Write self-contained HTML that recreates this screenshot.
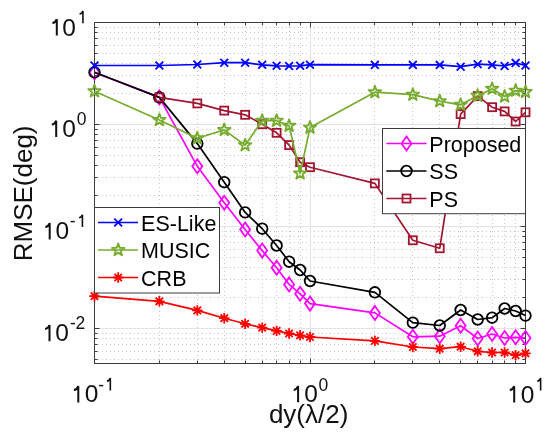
<!DOCTYPE html>
<html><head><meta charset="utf-8"><style>html,body{margin:0;padding:0;background:#fff;width:550px;height:437px;overflow:hidden}</style></head>
<body><svg width="550" height="437" viewBox="0 0 550 437" style="display:block;filter:blur(0.35px)">
<rect width="550" height="437" fill="#fff"/>
<g><line x1="159.5" y1="23" x2="159.5" y2="363.5" stroke="#c8c8c8" stroke-width="1" stroke-dasharray="1 3"/><line x1="197.5" y1="23" x2="197.5" y2="363.5" stroke="#c8c8c8" stroke-width="1" stroke-dasharray="1 3"/><line x1="224.5" y1="23" x2="224.5" y2="363.5" stroke="#c8c8c8" stroke-width="1" stroke-dasharray="1 3"/><line x1="245.5" y1="23" x2="245.5" y2="363.5" stroke="#c8c8c8" stroke-width="1" stroke-dasharray="1 3"/><line x1="262.5" y1="23" x2="262.5" y2="363.5" stroke="#c8c8c8" stroke-width="1" stroke-dasharray="1 3"/><line x1="276.5" y1="23" x2="276.5" y2="363.5" stroke="#c8c8c8" stroke-width="1" stroke-dasharray="1 3"/><line x1="289.5" y1="23" x2="289.5" y2="363.5" stroke="#c8c8c8" stroke-width="1" stroke-dasharray="1 3"/><line x1="300.5" y1="23" x2="300.5" y2="363.5" stroke="#c8c8c8" stroke-width="1" stroke-dasharray="1 3"/><line x1="374.5" y1="23" x2="374.5" y2="363.5" stroke="#c8c8c8" stroke-width="1" stroke-dasharray="1 3"/><line x1="412.5" y1="23" x2="412.5" y2="363.5" stroke="#c8c8c8" stroke-width="1" stroke-dasharray="1 3"/><line x1="439.5" y1="23" x2="439.5" y2="363.5" stroke="#c8c8c8" stroke-width="1" stroke-dasharray="1 3"/><line x1="460.5" y1="23" x2="460.5" y2="363.5" stroke="#c8c8c8" stroke-width="1" stroke-dasharray="1 3"/><line x1="477.5" y1="23" x2="477.5" y2="363.5" stroke="#c8c8c8" stroke-width="1" stroke-dasharray="1 3"/><line x1="492.5" y1="23" x2="492.5" y2="363.5" stroke="#c8c8c8" stroke-width="1" stroke-dasharray="1 3"/><line x1="504.5" y1="23" x2="504.5" y2="363.5" stroke="#c8c8c8" stroke-width="1" stroke-dasharray="1 3"/><line x1="515.5" y1="23" x2="515.5" y2="363.5" stroke="#c8c8c8" stroke-width="1" stroke-dasharray="1 3"/><line x1="94" y1="359.5" x2="525.5" y2="359.5" stroke="#c8c8c8" stroke-width="1" stroke-dasharray="1 3"/><line x1="94" y1="351.5" x2="525.5" y2="351.5" stroke="#c8c8c8" stroke-width="1" stroke-dasharray="1 3"/><line x1="94" y1="344.5" x2="525.5" y2="344.5" stroke="#c8c8c8" stroke-width="1" stroke-dasharray="1 3"/><line x1="94" y1="338.5" x2="525.5" y2="338.5" stroke="#c8c8c8" stroke-width="1" stroke-dasharray="1 3"/><line x1="94" y1="333.5" x2="525.5" y2="333.5" stroke="#c8c8c8" stroke-width="1" stroke-dasharray="1 3"/><line x1="94" y1="297.5" x2="525.5" y2="297.5" stroke="#c8c8c8" stroke-width="1" stroke-dasharray="1 3"/><line x1="94" y1="279.5" x2="525.5" y2="279.5" stroke="#c8c8c8" stroke-width="1" stroke-dasharray="1 3"/><line x1="94" y1="267.5" x2="525.5" y2="267.5" stroke="#c8c8c8" stroke-width="1" stroke-dasharray="1 3"/><line x1="94" y1="257.5" x2="525.5" y2="257.5" stroke="#c8c8c8" stroke-width="1" stroke-dasharray="1 3"/><line x1="94" y1="249.5" x2="525.5" y2="249.5" stroke="#c8c8c8" stroke-width="1" stroke-dasharray="1 3"/><line x1="94" y1="242.5" x2="525.5" y2="242.5" stroke="#c8c8c8" stroke-width="1" stroke-dasharray="1 3"/><line x1="94" y1="236.5" x2="525.5" y2="236.5" stroke="#c8c8c8" stroke-width="1" stroke-dasharray="1 3"/><line x1="94" y1="231.5" x2="525.5" y2="231.5" stroke="#c8c8c8" stroke-width="1" stroke-dasharray="1 3"/><line x1="94" y1="195.5" x2="525.5" y2="195.5" stroke="#c8c8c8" stroke-width="1" stroke-dasharray="1 3"/><line x1="94" y1="177.5" x2="525.5" y2="177.5" stroke="#c8c8c8" stroke-width="1" stroke-dasharray="1 3"/><line x1="94" y1="165.5" x2="525.5" y2="165.5" stroke="#c8c8c8" stroke-width="1" stroke-dasharray="1 3"/><line x1="94" y1="155.5" x2="525.5" y2="155.5" stroke="#c8c8c8" stroke-width="1" stroke-dasharray="1 3"/><line x1="94" y1="147.5" x2="525.5" y2="147.5" stroke="#c8c8c8" stroke-width="1" stroke-dasharray="1 3"/><line x1="94" y1="140.5" x2="525.5" y2="140.5" stroke="#c8c8c8" stroke-width="1" stroke-dasharray="1 3"/><line x1="94" y1="134.5" x2="525.5" y2="134.5" stroke="#c8c8c8" stroke-width="1" stroke-dasharray="1 3"/><line x1="94" y1="129.5" x2="525.5" y2="129.5" stroke="#c8c8c8" stroke-width="1" stroke-dasharray="1 3"/><line x1="94" y1="93.5" x2="525.5" y2="93.5" stroke="#c8c8c8" stroke-width="1" stroke-dasharray="1 3"/><line x1="94" y1="75.5" x2="525.5" y2="75.5" stroke="#c8c8c8" stroke-width="1" stroke-dasharray="1 3"/><line x1="94" y1="63.5" x2="525.5" y2="63.5" stroke="#c8c8c8" stroke-width="1" stroke-dasharray="1 3"/><line x1="94" y1="53.5" x2="525.5" y2="53.5" stroke="#c8c8c8" stroke-width="1" stroke-dasharray="1 3"/><line x1="94" y1="45.5" x2="525.5" y2="45.5" stroke="#c8c8c8" stroke-width="1" stroke-dasharray="1 3"/><line x1="94" y1="38.5" x2="525.5" y2="38.5" stroke="#c8c8c8" stroke-width="1" stroke-dasharray="1 3"/><line x1="94" y1="32.5" x2="525.5" y2="32.5" stroke="#c8c8c8" stroke-width="1" stroke-dasharray="1 3"/><line x1="94" y1="27.5" x2="525.5" y2="27.5" stroke="#c8c8c8" stroke-width="1" stroke-dasharray="1 3"/><line x1="310.5" y1="22.5" x2="310.5" y2="363.5" stroke="#e3e3e3" stroke-width="1"/><line x1="94.5" y1="124.5" x2="525.5" y2="124.5" stroke="#e3e3e3" stroke-width="1"/><line x1="94.5" y1="226.5" x2="525.5" y2="226.5" stroke="#e3e3e3" stroke-width="1"/><line x1="94.5" y1="328.5" x2="525.5" y2="328.5" stroke="#e3e3e3" stroke-width="1"/></g>
<rect x="94.5" y="22.5" width="431.0" height="341.0" fill="none" stroke="#3c3c3c" stroke-width="1"/>
<path d="M159.5 363.5v-3M159.5 22.5v3M197.5 363.5v-3M197.5 22.5v3M224.5 363.5v-3M224.5 22.5v3M245.5 363.5v-3M245.5 22.5v3M262.5 363.5v-3M262.5 22.5v3M276.5 363.5v-3M276.5 22.5v3M289.5 363.5v-3M289.5 22.5v3M300.5 363.5v-3M300.5 22.5v3M374.5 363.5v-3M374.5 22.5v3M412.5 363.5v-3M412.5 22.5v3M439.5 363.5v-3M439.5 22.5v3M460.5 363.5v-3M460.5 22.5v3M477.5 363.5v-3M477.5 22.5v3M492.5 363.5v-3M492.5 22.5v3M504.5 363.5v-3M504.5 22.5v3M515.5 363.5v-3M515.5 22.5v3M94.5 359.5h3M525.5 359.5h-3M94.5 351.5h3M525.5 351.5h-3M94.5 344.5h3M525.5 344.5h-3M94.5 338.5h3M525.5 338.5h-3M94.5 333.5h3M525.5 333.5h-3M94.5 297.5h3M525.5 297.5h-3M94.5 279.5h3M525.5 279.5h-3M94.5 267.5h3M525.5 267.5h-3M94.5 257.5h3M525.5 257.5h-3M94.5 249.5h3M525.5 249.5h-3M94.5 242.5h3M525.5 242.5h-3M94.5 236.5h3M525.5 236.5h-3M94.5 231.5h3M525.5 231.5h-3M94.5 195.5h3M525.5 195.5h-3M94.5 177.5h3M525.5 177.5h-3M94.5 165.5h3M525.5 165.5h-3M94.5 155.5h3M525.5 155.5h-3M94.5 147.5h3M525.5 147.5h-3M94.5 140.5h3M525.5 140.5h-3M94.5 134.5h3M525.5 134.5h-3M94.5 129.5h3M525.5 129.5h-3M94.5 93.5h3M525.5 93.5h-3M94.5 75.5h3M525.5 75.5h-3M94.5 63.5h3M525.5 63.5h-3M94.5 53.5h3M525.5 53.5h-3M94.5 45.5h3M525.5 45.5h-3M94.5 38.5h3M525.5 38.5h-3M94.5 32.5h3M525.5 32.5h-3M94.5 27.5h3M525.5 27.5h-3M94.5 363.5v-5M94.5 22.5v5M310.5 363.5v-5M310.5 22.5v5M525.5 363.5v-5M525.5 22.5v5M94.5 22.5h5M525.5 22.5h-5M94.5 124.5h5M525.5 124.5h-5M94.5 226.5h5M525.5 226.5h-5M94.5 328.5h5M525.5 328.5h-5" stroke="#3c3c3c" stroke-width="1" fill="none"/>
<g><path d="M94.50 72.50 L159.37 97.40 L197.32 166.30 L224.24 202.70 L245.13 229.50 L262.19 250.60 L276.62 267.70 L289.12 284.40 L300.14 293.80 L310.00 303.60 L374.87 312.90 L412.82 336.80 L439.74 336.20 L460.63 325.80 L477.69 338.50 L492.12 334.00 L504.62 338.00 L515.64 337.30 L525.50 338.00" stroke="#ff00ff" stroke-width="1.7" fill="none" stroke-linejoin="round"/><path d="M94.50 65.50L99.50 72.50L94.50 79.50L89.50 72.50Z" stroke="#ff00ff" stroke-width="1.8" fill="none"/><path d="M159.37 90.40L164.37 97.40L159.37 104.40L154.37 97.40Z" stroke="#ff00ff" stroke-width="1.8" fill="none"/><path d="M197.32 159.30L202.32 166.30L197.32 173.30L192.32 166.30Z" stroke="#ff00ff" stroke-width="1.8" fill="none"/><path d="M224.24 195.70L229.24 202.70L224.24 209.70L219.24 202.70Z" stroke="#ff00ff" stroke-width="1.8" fill="none"/><path d="M245.13 222.50L250.13 229.50L245.13 236.50L240.13 229.50Z" stroke="#ff00ff" stroke-width="1.8" fill="none"/><path d="M262.19 243.60L267.19 250.60L262.19 257.60L257.19 250.60Z" stroke="#ff00ff" stroke-width="1.8" fill="none"/><path d="M276.62 260.70L281.62 267.70L276.62 274.70L271.62 267.70Z" stroke="#ff00ff" stroke-width="1.8" fill="none"/><path d="M289.12 277.40L294.12 284.40L289.12 291.40L284.12 284.40Z" stroke="#ff00ff" stroke-width="1.8" fill="none"/><path d="M300.14 286.80L305.14 293.80L300.14 300.80L295.14 293.80Z" stroke="#ff00ff" stroke-width="1.8" fill="none"/><path d="M310.00 296.60L315.00 303.60L310.00 310.60L305.00 303.60Z" stroke="#ff00ff" stroke-width="1.8" fill="none"/><path d="M374.87 305.90L379.87 312.90L374.87 319.90L369.87 312.90Z" stroke="#ff00ff" stroke-width="1.8" fill="none"/><path d="M412.82 329.80L417.82 336.80L412.82 343.80L407.82 336.80Z" stroke="#ff00ff" stroke-width="1.8" fill="none"/><path d="M439.74 329.20L444.74 336.20L439.74 343.20L434.74 336.20Z" stroke="#ff00ff" stroke-width="1.8" fill="none"/><path d="M460.63 318.80L465.63 325.80L460.63 332.80L455.63 325.80Z" stroke="#ff00ff" stroke-width="1.8" fill="none"/><path d="M477.69 331.50L482.69 338.50L477.69 345.50L472.69 338.50Z" stroke="#ff00ff" stroke-width="1.8" fill="none"/><path d="M492.12 327.00L497.12 334.00L492.12 341.00L487.12 334.00Z" stroke="#ff00ff" stroke-width="1.8" fill="none"/><path d="M504.62 331.00L509.62 338.00L504.62 345.00L499.62 338.00Z" stroke="#ff00ff" stroke-width="1.8" fill="none"/><path d="M515.64 330.30L520.64 337.30L515.64 344.30L510.64 337.30Z" stroke="#ff00ff" stroke-width="1.8" fill="none"/><path d="M525.50 331.00L530.50 338.00L525.50 345.00L520.50 338.00Z" stroke="#ff00ff" stroke-width="1.8" fill="none"/><path d="M94.50 72.30 L159.37 97.40 L197.32 143.60 L224.24 182.20 L245.13 212.40 L262.19 228.70 L276.62 245.50 L289.12 261.70 L300.14 270.00 L310.00 281.00 L374.87 292.30 L412.82 322.60 L439.74 325.50 L460.63 310.00 L477.69 319.50 L492.12 317.70 L504.62 308.50 L515.64 311.00 L525.50 315.60" stroke="#000000" stroke-width="1.7" fill="none" stroke-linejoin="round"/><circle cx="94.50" cy="72.30" r="5.3" stroke="#000000" stroke-width="1.8" fill="none"/><circle cx="159.37" cy="97.40" r="5.3" stroke="#000000" stroke-width="1.8" fill="none"/><circle cx="197.32" cy="143.60" r="5.3" stroke="#000000" stroke-width="1.8" fill="none"/><circle cx="224.24" cy="182.20" r="5.3" stroke="#000000" stroke-width="1.8" fill="none"/><circle cx="245.13" cy="212.40" r="5.3" stroke="#000000" stroke-width="1.8" fill="none"/><circle cx="262.19" cy="228.70" r="5.3" stroke="#000000" stroke-width="1.8" fill="none"/><circle cx="276.62" cy="245.50" r="5.3" stroke="#000000" stroke-width="1.8" fill="none"/><circle cx="289.12" cy="261.70" r="5.3" stroke="#000000" stroke-width="1.8" fill="none"/><circle cx="300.14" cy="270.00" r="5.3" stroke="#000000" stroke-width="1.8" fill="none"/><circle cx="310.00" cy="281.00" r="5.3" stroke="#000000" stroke-width="1.8" fill="none"/><circle cx="374.87" cy="292.30" r="5.3" stroke="#000000" stroke-width="1.8" fill="none"/><circle cx="412.82" cy="322.60" r="5.3" stroke="#000000" stroke-width="1.8" fill="none"/><circle cx="439.74" cy="325.50" r="5.3" stroke="#000000" stroke-width="1.8" fill="none"/><circle cx="460.63" cy="310.00" r="5.3" stroke="#000000" stroke-width="1.8" fill="none"/><circle cx="477.69" cy="319.50" r="5.3" stroke="#000000" stroke-width="1.8" fill="none"/><circle cx="492.12" cy="317.70" r="5.3" stroke="#000000" stroke-width="1.8" fill="none"/><circle cx="504.62" cy="308.50" r="5.3" stroke="#000000" stroke-width="1.8" fill="none"/><circle cx="515.64" cy="311.00" r="5.3" stroke="#000000" stroke-width="1.8" fill="none"/><circle cx="525.50" cy="315.60" r="5.3" stroke="#000000" stroke-width="1.8" fill="none"/><path d="M159.37 97.40 L197.32 103.40 L224.24 110.60 L245.13 114.80 L262.19 124.20 L276.62 132.80 L289.12 145.10 L300.14 162.20 L310.00 167.20 L374.87 183.40 L412.82 240.30 L439.74 248.30 L460.63 114.10 L477.69 96.10 L492.12 107.20 L504.62 111.40 L515.64 121.50 L525.50 112.30" stroke="#a2142f" stroke-width="1.7" fill="none" stroke-linejoin="round"/><rect x="155.37" y="93.40" width="8.00" height="8.00" stroke="#a2142f" stroke-width="1.8" fill="none"/><rect x="193.32" y="99.40" width="8.00" height="8.00" stroke="#a2142f" stroke-width="1.8" fill="none"/><rect x="220.24" y="106.60" width="8.00" height="8.00" stroke="#a2142f" stroke-width="1.8" fill="none"/><rect x="241.13" y="110.80" width="8.00" height="8.00" stroke="#a2142f" stroke-width="1.8" fill="none"/><rect x="258.19" y="120.20" width="8.00" height="8.00" stroke="#a2142f" stroke-width="1.8" fill="none"/><rect x="272.62" y="128.80" width="8.00" height="8.00" stroke="#a2142f" stroke-width="1.8" fill="none"/><rect x="285.12" y="141.10" width="8.00" height="8.00" stroke="#a2142f" stroke-width="1.8" fill="none"/><rect x="296.14" y="158.20" width="8.00" height="8.00" stroke="#a2142f" stroke-width="1.8" fill="none"/><rect x="306.00" y="163.20" width="8.00" height="8.00" stroke="#a2142f" stroke-width="1.8" fill="none"/><rect x="370.87" y="179.40" width="8.00" height="8.00" stroke="#a2142f" stroke-width="1.8" fill="none"/><rect x="408.82" y="236.30" width="8.00" height="8.00" stroke="#a2142f" stroke-width="1.8" fill="none"/><rect x="435.74" y="244.30" width="8.00" height="8.00" stroke="#a2142f" stroke-width="1.8" fill="none"/><rect x="456.63" y="110.10" width="8.00" height="8.00" stroke="#a2142f" stroke-width="1.8" fill="none"/><rect x="473.69" y="92.10" width="8.00" height="8.00" stroke="#a2142f" stroke-width="1.8" fill="none"/><rect x="488.12" y="103.20" width="8.00" height="8.00" stroke="#a2142f" stroke-width="1.8" fill="none"/><rect x="500.62" y="107.40" width="8.00" height="8.00" stroke="#a2142f" stroke-width="1.8" fill="none"/><rect x="511.64" y="117.50" width="8.00" height="8.00" stroke="#a2142f" stroke-width="1.8" fill="none"/><rect x="521.50" y="108.30" width="8.00" height="8.00" stroke="#a2142f" stroke-width="1.8" fill="none"/><path d="M94.50 65.50 L159.37 65.50 L197.32 64.50 L224.24 62.70 L245.13 62.70 L262.19 64.80 L276.62 65.80 L289.12 66.00 L300.14 65.80 L310.00 64.70 L374.87 64.90 L412.82 64.90 L439.74 64.90 L460.63 66.70 L477.69 64.20 L492.12 64.90 L504.62 66.00 L515.64 62.90 L525.50 65.50" stroke="#0000ff" stroke-width="1.7" fill="none" stroke-linejoin="round"/><path d="M90.60 61.60L98.40 69.40M90.60 69.40L98.40 61.60" stroke="#0000ff" stroke-width="1.8" fill="none"/><path d="M155.47 61.60L163.27 69.40M155.47 69.40L163.27 61.60" stroke="#0000ff" stroke-width="1.8" fill="none"/><path d="M193.42 60.60L201.22 68.40M193.42 68.40L201.22 60.60" stroke="#0000ff" stroke-width="1.8" fill="none"/><path d="M220.34 58.80L228.14 66.60M220.34 66.60L228.14 58.80" stroke="#0000ff" stroke-width="1.8" fill="none"/><path d="M241.23 58.80L249.03 66.60M241.23 66.60L249.03 58.80" stroke="#0000ff" stroke-width="1.8" fill="none"/><path d="M258.29 60.90L266.09 68.70M258.29 68.70L266.09 60.90" stroke="#0000ff" stroke-width="1.8" fill="none"/><path d="M272.72 61.90L280.52 69.70M272.72 69.70L280.52 61.90" stroke="#0000ff" stroke-width="1.8" fill="none"/><path d="M285.22 62.10L293.02 69.90M285.22 69.90L293.02 62.10" stroke="#0000ff" stroke-width="1.8" fill="none"/><path d="M296.24 61.90L304.04 69.70M296.24 69.70L304.04 61.90" stroke="#0000ff" stroke-width="1.8" fill="none"/><path d="M306.10 60.80L313.90 68.60M306.10 68.60L313.90 60.80" stroke="#0000ff" stroke-width="1.8" fill="none"/><path d="M370.97 61.00L378.77 68.80M370.97 68.80L378.77 61.00" stroke="#0000ff" stroke-width="1.8" fill="none"/><path d="M408.92 61.00L416.72 68.80M408.92 68.80L416.72 61.00" stroke="#0000ff" stroke-width="1.8" fill="none"/><path d="M435.84 61.00L443.64 68.80M435.84 68.80L443.64 61.00" stroke="#0000ff" stroke-width="1.8" fill="none"/><path d="M456.73 62.80L464.53 70.60M456.73 70.60L464.53 62.80" stroke="#0000ff" stroke-width="1.8" fill="none"/><path d="M473.79 60.30L481.59 68.10M473.79 68.10L481.59 60.30" stroke="#0000ff" stroke-width="1.8" fill="none"/><path d="M488.22 61.00L496.02 68.80M488.22 68.80L496.02 61.00" stroke="#0000ff" stroke-width="1.8" fill="none"/><path d="M500.72 62.10L508.52 69.90M500.72 69.90L508.52 62.10" stroke="#0000ff" stroke-width="1.8" fill="none"/><path d="M511.74 59.00L519.54 66.80M511.74 66.80L519.54 59.00" stroke="#0000ff" stroke-width="1.8" fill="none"/><path d="M521.60 61.60L529.40 69.40M521.60 69.40L529.40 61.60" stroke="#0000ff" stroke-width="1.8" fill="none"/><path d="M94.50 91.20 L159.37 120.00 L197.32 138.20 L224.24 129.90 L245.13 145.20 L262.19 120.70 L276.62 120.70 L289.12 125.80 L300.14 173.40 L310.00 127.60 L374.87 92.20 L412.82 94.70 L439.74 101.10 L460.63 104.80 L477.69 95.70 L492.12 88.80 L504.62 96.50 L515.64 90.60 L525.50 91.90" stroke="#77ac30" stroke-width="1.7" fill="none" stroke-linejoin="round"/><polygon points="94.50,84.70 96.03,89.10 100.68,89.19 96.97,92.00 98.32,96.46 94.50,93.80 90.68,96.46 92.03,92.00 88.32,89.19 92.97,89.10" stroke="#77ac30" stroke-width="1.9" fill="none" stroke-linejoin="round"/><polygon points="159.37,113.50 160.90,117.90 165.55,117.99 161.84,120.80 163.19,125.26 159.37,122.60 155.55,125.26 156.90,120.80 153.19,117.99 157.84,117.90" stroke="#77ac30" stroke-width="1.9" fill="none" stroke-linejoin="round"/><polygon points="197.32,131.70 198.85,136.10 203.50,136.19 199.79,139.00 201.14,143.46 197.32,140.80 193.50,143.46 194.85,139.00 191.14,136.19 195.79,136.10" stroke="#77ac30" stroke-width="1.9" fill="none" stroke-linejoin="round"/><polygon points="224.24,123.40 225.77,127.80 230.43,127.89 226.72,130.70 228.06,135.16 224.24,132.50 220.42,135.16 221.77,130.70 218.06,127.89 222.72,127.80" stroke="#77ac30" stroke-width="1.9" fill="none" stroke-linejoin="round"/><polygon points="245.13,138.70 246.66,143.10 251.31,143.19 247.60,146.00 248.95,150.46 245.13,147.80 241.31,150.46 242.66,146.00 238.95,143.19 243.60,143.10" stroke="#77ac30" stroke-width="1.9" fill="none" stroke-linejoin="round"/><polygon points="262.19,114.20 263.72,118.60 268.37,118.69 264.66,121.50 266.01,125.96 262.19,123.30 258.37,125.96 259.72,121.50 256.01,118.69 260.66,118.60" stroke="#77ac30" stroke-width="1.9" fill="none" stroke-linejoin="round"/><polygon points="276.62,114.20 278.15,118.60 282.80,118.69 279.09,121.50 280.44,125.96 276.62,123.30 272.80,125.96 274.15,121.50 270.44,118.69 275.09,118.60" stroke="#77ac30" stroke-width="1.9" fill="none" stroke-linejoin="round"/><polygon points="289.12,119.30 290.64,123.70 295.30,123.79 291.59,126.60 292.94,131.06 289.12,128.40 285.30,131.06 286.64,126.60 282.93,123.79 287.59,123.70" stroke="#77ac30" stroke-width="1.9" fill="none" stroke-linejoin="round"/><polygon points="300.14,166.90 301.67,171.30 306.32,171.39 302.61,174.20 303.96,178.66 300.14,176.00 296.32,178.66 297.67,174.20 293.96,171.39 298.61,171.30" stroke="#77ac30" stroke-width="1.9" fill="none" stroke-linejoin="round"/><polygon points="310.00,121.10 311.53,125.50 316.18,125.59 312.47,128.40 313.82,132.86 310.00,130.20 306.18,132.86 307.53,128.40 303.82,125.59 308.47,125.50" stroke="#77ac30" stroke-width="1.9" fill="none" stroke-linejoin="round"/><polygon points="374.87,85.70 376.40,90.10 381.05,90.19 377.34,93.00 378.69,97.46 374.87,94.80 371.05,97.46 372.40,93.00 368.69,90.19 373.34,90.10" stroke="#77ac30" stroke-width="1.9" fill="none" stroke-linejoin="round"/><polygon points="412.82,88.20 414.35,92.60 419.00,92.69 415.29,95.50 416.64,99.96 412.82,97.30 409.00,99.96 410.35,95.50 406.64,92.69 411.29,92.60" stroke="#77ac30" stroke-width="1.9" fill="none" stroke-linejoin="round"/><polygon points="439.74,94.60 441.27,99.00 445.93,99.09 442.22,101.90 443.56,106.36 439.74,103.70 435.92,106.36 437.27,101.90 433.56,99.09 438.22,99.00" stroke="#77ac30" stroke-width="1.9" fill="none" stroke-linejoin="round"/><polygon points="460.63,98.30 462.16,102.70 466.81,102.79 463.10,105.60 464.45,110.06 460.63,107.40 456.81,110.06 458.16,105.60 454.45,102.79 459.10,102.70" stroke="#77ac30" stroke-width="1.9" fill="none" stroke-linejoin="round"/><polygon points="477.69,89.20 479.22,93.60 483.87,93.69 480.16,96.50 481.51,100.96 477.69,98.30 473.87,100.96 475.22,96.50 471.51,93.69 476.16,93.60" stroke="#77ac30" stroke-width="1.9" fill="none" stroke-linejoin="round"/><polygon points="492.12,82.30 493.65,86.70 498.30,86.79 494.59,89.60 495.94,94.06 492.12,91.40 488.30,94.06 489.65,89.60 485.94,86.79 490.59,86.70" stroke="#77ac30" stroke-width="1.9" fill="none" stroke-linejoin="round"/><polygon points="504.62,90.00 506.14,94.40 510.80,94.49 507.09,97.30 508.44,101.76 504.62,99.10 500.80,101.76 502.14,97.30 498.43,94.49 503.09,94.40" stroke="#77ac30" stroke-width="1.9" fill="none" stroke-linejoin="round"/><polygon points="515.64,84.10 517.17,88.50 521.82,88.59 518.11,91.40 519.46,95.86 515.64,93.20 511.82,95.86 513.17,91.40 509.46,88.59 514.11,88.50" stroke="#77ac30" stroke-width="1.9" fill="none" stroke-linejoin="round"/><polygon points="525.50,85.40 527.03,89.80 531.68,89.89 527.97,92.70 529.32,97.16 525.50,94.50 521.68,97.16 523.03,92.70 519.32,89.89 523.97,89.80" stroke="#77ac30" stroke-width="1.9" fill="none" stroke-linejoin="round"/><path d="M94.50 296.20 L159.37 301.30 L197.32 310.40 L224.24 318.20 L245.13 323.80 L262.19 327.60 L276.62 330.90 L289.12 333.50 L300.14 335.30 L310.00 337.00 L374.87 340.90 L412.82 347.00 L439.74 348.70 L460.63 346.70 L477.69 351.30 L492.12 352.50 L504.62 352.50 L515.64 355.10 L525.50 353.30" stroke="#ff0000" stroke-width="1.7" fill="none" stroke-linejoin="round"/><path d="M94.50 291.00V301.40M89.30 296.20H99.70M90.80 292.50L98.20 299.90M90.80 299.90L98.20 292.50" stroke="#ff0000" stroke-width="1.8" fill="none"/><path d="M159.37 296.10V306.50M154.17 301.30H164.57M155.67 297.60L163.07 305.00M155.67 305.00L163.07 297.60" stroke="#ff0000" stroke-width="1.8" fill="none"/><path d="M197.32 305.20V315.60M192.12 310.40H202.52M193.62 306.70L201.02 314.10M193.62 314.10L201.02 306.70" stroke="#ff0000" stroke-width="1.8" fill="none"/><path d="M224.24 313.00V323.40M219.04 318.20H229.44M220.54 314.50L227.94 321.90M220.54 321.90L227.94 314.50" stroke="#ff0000" stroke-width="1.8" fill="none"/><path d="M245.13 318.60V329.00M239.93 323.80H250.33M241.43 320.10L248.83 327.50M241.43 327.50L248.83 320.10" stroke="#ff0000" stroke-width="1.8" fill="none"/><path d="M262.19 322.40V332.80M256.99 327.60H267.39M258.49 323.90L265.89 331.30M258.49 331.30L265.89 323.90" stroke="#ff0000" stroke-width="1.8" fill="none"/><path d="M276.62 325.70V336.10M271.42 330.90H281.82M272.92 327.20L280.32 334.60M272.92 334.60L280.32 327.20" stroke="#ff0000" stroke-width="1.8" fill="none"/><path d="M289.12 328.30V338.70M283.92 333.50H294.32M285.42 329.80L292.82 337.20M285.42 337.20L292.82 329.80" stroke="#ff0000" stroke-width="1.8" fill="none"/><path d="M300.14 330.10V340.50M294.94 335.30H305.34M296.44 331.60L303.84 339.00M296.44 339.00L303.84 331.60" stroke="#ff0000" stroke-width="1.8" fill="none"/><path d="M310.00 331.80V342.20M304.80 337.00H315.20M306.30 333.30L313.70 340.70M306.30 340.70L313.70 333.30" stroke="#ff0000" stroke-width="1.8" fill="none"/><path d="M374.87 335.70V346.10M369.67 340.90H380.07M371.17 337.20L378.57 344.60M371.17 344.60L378.57 337.20" stroke="#ff0000" stroke-width="1.8" fill="none"/><path d="M412.82 341.80V352.20M407.62 347.00H418.02M409.12 343.30L416.52 350.70M409.12 350.70L416.52 343.30" stroke="#ff0000" stroke-width="1.8" fill="none"/><path d="M439.74 343.50V353.90M434.54 348.70H444.94M436.04 345.00L443.44 352.40M436.04 352.40L443.44 345.00" stroke="#ff0000" stroke-width="1.8" fill="none"/><path d="M460.63 341.50V351.90M455.43 346.70H465.83M456.93 343.00L464.33 350.40M456.93 350.40L464.33 343.00" stroke="#ff0000" stroke-width="1.8" fill="none"/><path d="M477.69 346.10V356.50M472.49 351.30H482.89M473.99 347.60L481.39 355.00M473.99 355.00L481.39 347.60" stroke="#ff0000" stroke-width="1.8" fill="none"/><path d="M492.12 347.30V357.70M486.92 352.50H497.32M488.42 348.80L495.82 356.20M488.42 356.20L495.82 348.80" stroke="#ff0000" stroke-width="1.8" fill="none"/><path d="M504.62 347.30V357.70M499.42 352.50H509.82M500.92 348.80L508.32 356.20M500.92 356.20L508.32 348.80" stroke="#ff0000" stroke-width="1.8" fill="none"/><path d="M515.64 349.90V360.30M510.44 355.10H520.84M511.94 351.40L519.34 358.80M511.94 358.80L519.34 351.40" stroke="#ff0000" stroke-width="1.8" fill="none"/><path d="M525.50 348.10V358.50M520.30 353.30H530.70M521.80 349.60L529.20 357.00M521.80 357.00L529.20 349.60" stroke="#ff0000" stroke-width="1.8" fill="none"/></g>
<g fill="#111" font-family="Liberation Sans, sans-serif"><path d="M52.40 23.10Q55.50 22.80 56.80 19.20V35.50" stroke="#111" stroke-width="2.0" fill="none"/><text transform="translate(62.33,35.50) scale(1,1)" font-size="24.5">0</text><path d="M79.58 13.88Q81.93 13.65 82.92 10.91V23.30" stroke="#111" stroke-width="1.6" fill="none"/><path d="M51.80 124.60Q54.90 124.30 56.20 120.70V137.00" stroke="#111" stroke-width="2.0" fill="none"/><text transform="translate(62.33,137.00) scale(1,1)" font-size="24.5">0</text><text x="76.82" y="125.00" font-size="17.5">0</text><path d="M45.30 227.00Q48.40 226.70 49.70 223.10V239.40" stroke="#111" stroke-width="2.0" fill="none"/><text transform="translate(55.53,239.40) scale(1,1)" font-size="24.5">0</text><text x="69.73" y="227.10" font-size="17.5">-</text><path d="M79.08 217.68Q81.43 217.45 82.42 214.71V227.10" stroke="#111" stroke-width="1.6" fill="none"/><path d="M45.10 328.90Q48.20 328.60 49.50 325.00V341.30" stroke="#111" stroke-width="2.0" fill="none"/><text transform="translate(55.33,341.30) scale(1,1)" font-size="24.5">0</text><text x="69.93" y="329.20" font-size="17.5">-</text><text x="75.53" y="329.20" font-size="17.5">2</text><path d="M73.90 390.00Q77.00 389.70 78.30 386.10V402.40" stroke="#111" stroke-width="2.0" fill="none"/><text transform="translate(84.83,402.40) scale(1,1)" font-size="24.5">0</text><text x="98.33" y="390.50" font-size="17.5">-</text><path d="M106.98 381.08Q109.33 380.85 110.32 378.11V390.50" stroke="#111" stroke-width="1.6" fill="none"/><path d="M293.70 389.90Q296.80 389.60 298.10 386.00V402.30" stroke="#111" stroke-width="2.0" fill="none"/><text transform="translate(304.13,402.30) scale(1,1)" font-size="24.5">0</text><text x="318.42" y="390.50" font-size="17.5">0</text><path d="M509.80 390.10Q512.90 389.80 514.20 386.20V402.50" stroke="#111" stroke-width="2.0" fill="none"/><text transform="translate(520.83,402.50) scale(1,1)" font-size="24.5">0</text><path d="M537.28 381.08Q539.63 380.85 540.62 378.11V390.50" stroke="#111" stroke-width="1.6" fill="none"/><text x="268.9" y="423" font-size="26">dy(&#955;/2)</text><text transform="translate(32,261.3) rotate(-90)" x="0" y="0" font-size="26">RMSE(deg)</text></g>
<g font-family="Liberation Sans, sans-serif" fill="#000"><rect x="94.5" y="207.5" width="125" height="85.5" fill="#fff" stroke="#3c3c3c" stroke-width="1"/><path d="M98 222.5H138" stroke="#0000ff" stroke-width="1.7"/><path d="M114.30 218.60L122.10 226.40M114.30 226.40L122.10 218.60" stroke="#0000ff" stroke-width="1.8" fill="none"/><text transform="translate(141.1,230.80) scale(1,1.05)" font-size="21.5">ES-Like</text><path d="M98 250.0H138" stroke="#77ac30" stroke-width="1.7"/><polygon points="118.20,243.50 119.73,247.90 124.38,247.99 120.67,250.80 122.02,255.26 118.20,252.60 114.38,255.26 115.73,250.80 112.02,247.99 116.67,247.90" stroke="#77ac30" stroke-width="1.9" fill="none" stroke-linejoin="round"/><text transform="translate(141.1,258.30) scale(1,1.05)" font-size="21.5">MUSIC</text><path d="M98 277.5H138" stroke="#ff0000" stroke-width="1.7"/><path d="M118.20 272.30V282.70M113.00 277.50H123.40M114.50 273.80L121.90 281.20M114.50 281.20L121.90 273.80" stroke="#ff0000" stroke-width="1.8" fill="none"/><text transform="translate(141.1,285.80) scale(1,1.05)" font-size="21.5">CRB</text><rect x="382.5" y="128.5" width="143" height="85.2" fill="#fff" stroke="#3c3c3c" stroke-width="1"/><path d="M386.3 143.5H426.5" stroke="#ff00ff" stroke-width="1.7"/><path d="M406.50 136.50L411.50 143.50L406.50 150.50L401.50 143.50Z" stroke="#ff00ff" stroke-width="1.8" fill="none"/><text transform="translate(429.3,151.80) scale(1,1.05)" font-size="21.5">Proposed</text><path d="M386.3 171.0H426.5" stroke="#000000" stroke-width="1.7"/><circle cx="406.50" cy="171.00" r="5.3" stroke="#000000" stroke-width="1.8" fill="none"/><text transform="translate(429.3,179.30) scale(1,1.05)" font-size="21.5">SS</text><path d="M386.3 198.5H426.5" stroke="#a2142f" stroke-width="1.7"/><rect x="402.50" y="194.50" width="8.00" height="8.00" stroke="#a2142f" stroke-width="1.8" fill="none"/><text transform="translate(429.3,206.80) scale(1,1.05)" font-size="21.5">PS</text></g>
</svg></body></html>
